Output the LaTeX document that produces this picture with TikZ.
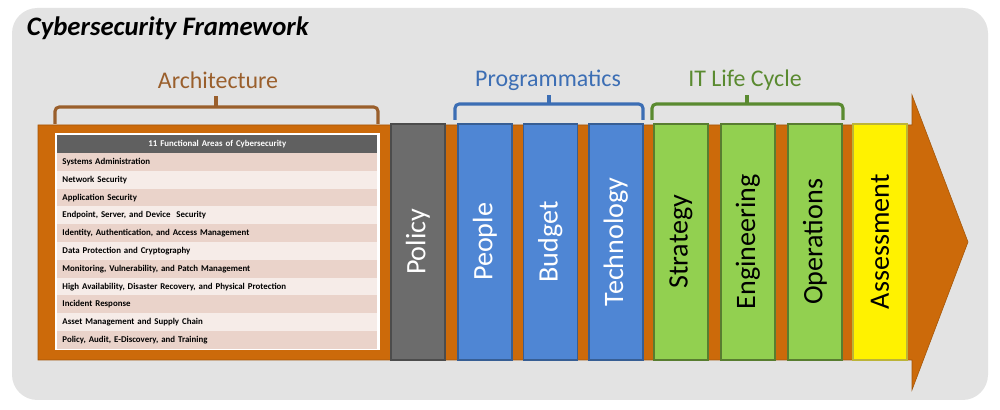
\documentclass[tikz,border=0pt]{standalone}
\usepackage{fontspec}
\setmainfont{Carlito}
\usepackage{xcolor}
\usetikzlibrary{positioning,calc}

\definecolor{arrowor}{HTML}{CC6A0A}
\definecolor{archbrown}{HTML}{9A5F2C}
\definecolor{progblue}{HTML}{4F86D4}
\definecolor{progtext}{HTML}{3C6EB4}
\definecolor{lifegreen}{HTML}{92D050}
\definecolor{lifetext}{HTML}{5A8A30}
\definecolor{rowdark}{HTML}{EAD3CA}
\definecolor{rowlight}{HTML}{F6ECE8}

\tikzset{
  bar/.style={draw, line width=1.2pt, minimum width=13.5mm, minimum height=59mm,
    inner sep=0pt, anchor=north west},
  bartext/.style={rotate=90, font=\fontsize{20}{24}\selectfont},
  brace/.style={line width=2.2pt, rounded corners=3pt},
  group/.style={font=\fontsize{17}{20}\selectfont},
  row/.style={anchor=north west, minimum width=80mm, minimum height=4.45mm,
    inner sep=1.3mm, text width=77.4mm, font=\fontsize{6.3}{7}\selectfont\bfseries}
}

\begin{document}
\begin{tikzpicture}[x=0.25mm, y=-0.25mm]
\useasboundingbox (0,0) rectangle (1000,410);

% Panel and title
\fill[gray!22, rounded corners=18pt] (12,8) rectangle (988,400);
\node[anchor=west, font=\fontsize{19}{22}\selectfont\bfseries\itshape] (title) at (22,28) {Cybersecurity Framework};

% Arrow
\fill[arrowor, draw=arrowor!80!black] (38,125) -- (912,125) -- (912,95) -- (968,242)
  -- (912,390) -- (912,360) -- (38,360) -- cycle;

% Table of functional areas
\fill[white] (55,133) rectangle (380,350);
\node[row, fill=gray!75!black, text=white, align=center] (hdr) at (57,135)
  {11 Functional Areas of Cybersecurity};
\foreach \t [count=\i] in {Systems Administration, Network Security, Application Security,
  {Endpoint, Server, and Device\ \ Security}, {Identity, Authentication, and Access Management},
  Data Protection and Cryptography, {Monitoring, Vulnerability, and Patch Management},
  {High Availability,\ Disaster Recovery, and Physical Protection}, Incident Response,
  Asset Management and Supply Chain, {Policy, Audit, E-Discovery, and Training}}{
  \pgfmathsetmacro{\yy}{135+17.8*\i}
  \ifodd\i \def\rc{rowdark}\else\def\rc{rowlight}\fi
  \node[row, fill=\rc] (r\i) at (57,\yy) {\t};
}

% Bars
\node[bar, fill=gray!85!black, draw=gray!60!black] (policy) at (390,123) {};
\node[bartext, text=white] at (policy.center) {Policy};
\foreach \n/\t [count=\i from 0] in {people/People, budget/Budget, tech/Technology}{
  \node[bar, fill=progblue, draw=progblue!70!black] (\n) at (457+65.5*\i,123) {};
  \node[bartext, text=white] at (\n.center) {\t};
}
\foreach \n/\t [count=\i from 0] in {strat/Strategy, eng/Engineering, ops/Operations}{
  \node[bar, fill=lifegreen, draw=lifegreen!60!black] (\n) at (653+67*\i,123) {};
  \node[bartext] at (\n.center) {\t};
}
\node[bar, fill=yellow, draw=yellow!70!black] (assess) at (852,123) {};
\node[bartext] at (assess.center) {Assessment};

% Braces and group labels
\draw[brace, archbrown] (55,124) -- (55,107) -- (378,107) -- (378,124);
\draw[archbrown, line width=2.2pt] (216,107) -- (216,96);
\node[group, text=archbrown] (arch) at (218,80) {Architecture};
\draw[brace, progtext] (455,120) -- (455,104) -- (643,104) -- (643,120);
\draw[progtext, line width=2.2pt] (549,104) -- (549,95);
\node[group, text=progtext] (prog) at (548,80) {Programmatics};
\draw[brace, lifetext] (652,120) -- (652,104) -- (843,104) -- (843,120);
\draw[lifetext, line width=2.2pt] (747,104) -- (747,95);
\node[group, text=lifetext] (life) at (745,80) {IT Life Cycle};
\end{tikzpicture}
\end{document}
